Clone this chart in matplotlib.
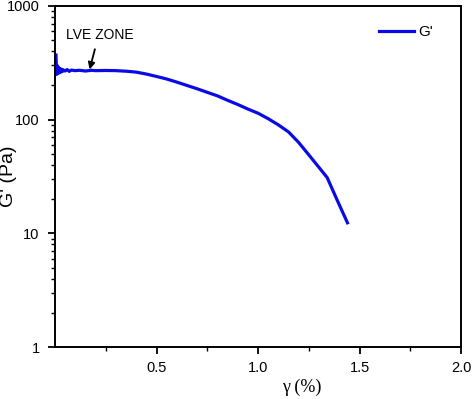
import matplotlib
matplotlib.use("Agg")
import matplotlib.pyplot as plt
from matplotlib.font_manager import FontProperties
from matplotlib.ticker import FixedLocator, LogLocator, NullFormatter

# strain sweep, G' vs gamma
strain = [0.005, 0.008, 0.011, 0.014, 0.017, 0.02, 0.024, 0.028, 0.032, 0.036, 0.04,
          0.05, 0.06, 0.07, 0.08, 0.1, 0.12, 0.15, 0.18, 0.2, 0.25, 0.3, 0.35, 0.4,
          0.45, 0.5, 0.55, 0.6, 0.65, 0.7, 0.75, 0.8, 0.85, 0.9, 0.95, 1.0, 1.05,
          1.1, 1.15, 1.2, 1.25, 1.3, 1.34, 1.39, 1.44]
g_prime = [370, 250, 300, 255, 290, 258, 282, 262, 278, 265, 275,
           268, 276, 266, 273, 270, 272, 268, 272, 270, 271, 270, 267, 262,
           252, 240, 228, 214, 200, 187, 174, 162, 148, 136, 124, 114, 102,
           90, 78, 63, 49, 38, 31, 19.5, 12.4]

plt.rcParams['font.family'] = ['Liberation Sans', 'DejaVu Sans']

fig = plt.figure(figsize=(4.74, 3.99), dpi=100)
ax = fig.add_axes([0.116, 0.130, 0.857, 0.855])

ax.plot(strain, g_prime, color='#0a0ae6', linewidth=2.3, label="G'")
ax.set_yscale('log')
ax.set_xlim(0, 2.0)
ax.set_ylim(1, 1000)

ax.xaxis.set_major_locator(FixedLocator([0.5, 1.0, 1.5, 2.0]))
ax.xaxis.set_minor_locator(FixedLocator([0.25, 0.75, 1.25, 1.75]))
ax.set_xticklabels(['0.5', '1.0', '1.5', '2.0'])
ax.set_yticks([1, 10, 100, 1000])
ax.set_yticklabels(['1', '10', '100', '1000'])
ax.yaxis.set_minor_locator(LogLocator(base=10, subs=range(2, 10)))
ax.yaxis.set_minor_formatter(NullFormatter())

ax.tick_params(which='major', direction='out', length=5, width=1.3, labelsize=10.5,
               top=False, right=False)
ax.tick_params(axis='x', which='major', pad=5)
ax.tick_params(axis='y', which='major', pad=6)
ax.tick_params(which='minor', direction='out', length=3, width=1.0,
               top=False, right=False)
for s in ax.spines.values():
    s.set_linewidth(1.4)

ylab_fp = FontProperties(family='Liberation Sans', size=14)
xlab_fp = FontProperties(family='Liberation Serif', size=13)
ax.set_ylabel("G' (Pa)", fontproperties=ylab_fp)
ax.yaxis.set_label_coords(-0.094, 0.50)
ax.set_xlabel("γ (%)", fontproperties=xlab_fp)
ax.xaxis.set_label_coords(0.608, -0.092)

ax.annotate('LVE ZONE', xy=(0.167, 262), xytext=(0.054, 560), fontsize=10,
            va='center', ha='left')
ax.annotate('', xy=(0.167, 262), xytext=(0.2, 440),
            arrowprops=dict(arrowstyle='-|>', color='black', lw=1.3, mutation_scale=10))

ax.legend(loc='upper right', frameon=False, fontsize=11, handlelength=2.3,
          handletextpad=0.3, bbox_to_anchor=(0.965, 0.985))

fig.savefig('out.png', dpi=100)
